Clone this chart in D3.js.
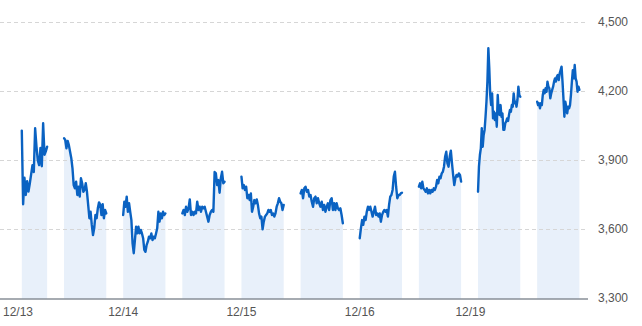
<!DOCTYPE html>
<html><head><meta charset="utf-8">
<script src="https://cdn.jsdelivr.net/npm/d3@7"></script>
<style>
body{margin:0;background:#fff}
svg{display:block}
text{font-family:"Liberation Sans",Arial,sans-serif;font-size:12px;fill:#555}
</style>
</head><body>
<svg id="chart" width="642" height="326"></svg>
<script>
// ---- data ----
const dateLabels = ["12/13", "12/14", "12/15", "12/16", "12/19"];
const dateTickTime = [0, 420, 840, 1260, 1653];   // trading-time units (minutes, lunch/overnight compressed)
const yTickValues = [3300, 3600, 3900, 4200, 4500];

const sessionDay   = [0, 0, 1, 1, 2, 2, 3, 3, 4, 4];
const sessionHalf  = ["AM", "PM", "AM", "PM", "AM", "PM", "AM", "PM", "AM", "PM"];
const sessionFirstMinute = [60, 0, 0, 0, 0, 0, 0, 0, 0, 0]; // first trade minute after session open

const d1am = [4030, 3710, 3825, 3750, 3810, 3765, 3800, 3840, 3880, 3850, 4040, 3960, 3900, 3880, 3955, 3875, 4062, 3925, 3940, 3960];
const d1pm = [3997, 3989, 3953, 3985, 3967, 3938, 3910, 3866, 3793, 3779, 3808, 3750, 3786, 3743, 3823, 3801, 3764, 3772, 3801, 3764, 3707, 3649, 3677, 3620, 3576, 3605, 3663, 3649, 3692, 3718, 3707, 3663, 3710, 3649, 3685, 3670];
const d2am = [3663, 3721, 3699, 3743, 3677, 3714, 3677, 3641, 3540, 3497, 3554, 3612, 3583, 3612, 3583, 3598, 3583, 3562, 3511, 3503, 3533, 3547, 3569, 3562, 3583, 3554, 3569, 3562, 3583, 3605, 3677, 3634, 3670, 3649, 3677, 3663, 3670];
const d2pm = [3670, 3685, 3663, 3699, 3677, 3692, 3731, 3663, 3677, 3663, 3677, 3670, 3721, 3685, 3699, 3677, 3699, 3692, 3699, 3677, 3656, 3634, 3663, 3677, 3685, 3677, 3850, 3844, 3793, 3815, 3760, 3823, 3851, 3801, 3808];
const d3am = [3830, 3779, 3793, 3772, 3786, 3736, 3750, 3728, 3757, 3677, 3699, 3728, 3714, 3731, 3707, 3670, 3649, 3656, 3601, 3634, 3656, 3663, 3670, 3685, 3677, 3685, 3663, 3670, 3656, 3670, 3699, 3714, 3736, 3721, 3714, 3685, 3707];
const d3pm = [3757, 3772, 3736, 3779, 3786, 3764, 3772, 3743, 3750, 3721, 3699, 3736, 3743, 3714, 3736, 3714, 3699, 3721, 3685, 3707, 3677, 3699, 3714, 3685, 3728, 3736, 3685, 3714, 3685, 3714, 3692, 3685, 3692, 3663, 3627];
const d4am = [3562, 3605, 3641, 3620, 3656, 3641, 3677, 3699, 3685, 3699, 3677, 3656, 3677, 3699, 3663, 3670, 3656, 3670, 3634, 3663, 3677, 3685, 3677, 3685, 3656, 3707, 3743, 3750, 3772, 3830, 3851, 3786, 3736, 3750, 3750, 3757, 3760];
const d4pm = [3786, 3801, 3779, 3808, 3779, 3772, 3764, 3779, 3757, 3772, 3757, 3772, 3764, 3779, 3772, 3786, 3815, 3801, 3830, 3823, 3844, 3851, 3873, 3917, 3938, 3888, 3873, 3917, 3943, 3888, 3837, 3793, 3823, 3837, 3830, 3844, 3837, 3808];
const d5am = [3764, 3873, 3924, 3953, 4040, 3960, 4011, 4033, 4090, 4156, 4243, 4388, 4301, 4185, 4141, 4192, 4083, 4112, 4076, 4105, 4047, 4185, 4112, 4098, 4141, 4090, 4105, 4033, 4033, 4062, 4069, 4083, 4072, 4098, 4120, 4112, 4141, 4134, 4192, 4149, 4156, 4134, 4163, 4221, 4185, 4177];
const d5pm = [4156, 4141, 4149, 4127, 4149, 4141, 4185, 4207, 4192, 4214, 4199, 4243, 4221, 4214, 4170, 4192, 4207, 4221, 4243, 4257, 4243, 4265, 4272, 4250, 4279, 4293, 4308, 4243, 4170, 4090, 4156, 4134, 4105, 4134, 4127, 4141, 4185, 4243, 4293, 4257, 4315, 4257, 4243, 4199, 4221, 4207];

const sessionValues = [d1am, d1pm, d2am, d2pm, d3am, d3pm, d4am, d4pm, d5am, d5pm];

// ---- layout ----
const SESSION_LEN = 150, LUNCH = 60, DAY_LEN = 420;
const svg = d3.select("#chart");

const x = d3.scaleLinear().domain([0, 4 * DAY_LEN + SESSION_LEN + LUNCH + SESSION_LEN]).range([4.9, 579.4]);
const y = d3.scaleLinear().domain([3300, 4500]).range([298.5, 22.5]);
const plotRight = 588;

const sessions = sessionValues.map((vals, s) => {
  const base = sessionDay[s] * DAY_LEN + (sessionHalf[s] === "PM" ? SESSION_LEN + LUNCH : 0);
  const first = sessionFirstMinute[s];
  const step = (SESSION_LEN - first) / (vals.length - 1);
  return vals.map((v, i) => ({ t: base + first + i * step, v }));
});

const area = d3.area().x(d => x(d.t)).y0(y(3300)).y1(d => y(d.v));
const line = d3.line().x(d => x(d.t)).y(d => y(d.v));

// fills
svg.append("g").selectAll("path").data(sessions).join("path")
  .attr("d", area).attr("fill", "#e8f0fa");

// gridlines
svg.append("g").selectAll("line").data(yTickValues.filter(v => v > 3300)).join("line")
  .attr("x1", 0).attr("x2", plotRight)
  .attr("y1", d => y(d)).attr("y2", d => y(d))
  .attr("stroke", "#d6d6d6").attr("stroke-width", 1).attr("stroke-dasharray", "4,3");

// price lines
svg.append("g").selectAll("path").data(sessions).join("path")
  .attr("d", line).attr("fill", "none")
  .attr("stroke", "#0a62c2").attr("stroke-width", 2.4)
  .attr("stroke-linejoin", "round").attr("stroke-linecap", "round");

// baseline
svg.append("line").attr("x1", 0).attr("x2", plotRight)
  .attr("y1", y(3300) + 0.5).attr("y2", y(3300) + 0.5)
  .attr("stroke", "#4f5964").attr("stroke-width", 1.2);

// y axis labels
const fmt = d3.format(",");
svg.append("g").selectAll("text").data(yTickValues).join("text")
  .attr("x", 598).attr("y", d => y(d)).attr("dy", "0.32em")
  .text(d => fmt(d));

// x axis labels
const xl = svg.append("g").selectAll("text").data(dateLabels).join("text")
  .attr("y", 316).attr("text-anchor", "middle")
  .text(d => d);
xl.each(function(d, i) {
  const w = this.getComputedTextLength();
  const cx = Math.max(x(dateTickTime[i]), w / 2 + 3);
  d3.select(this).attr("x", cx);
});
</script>
</body></html>
